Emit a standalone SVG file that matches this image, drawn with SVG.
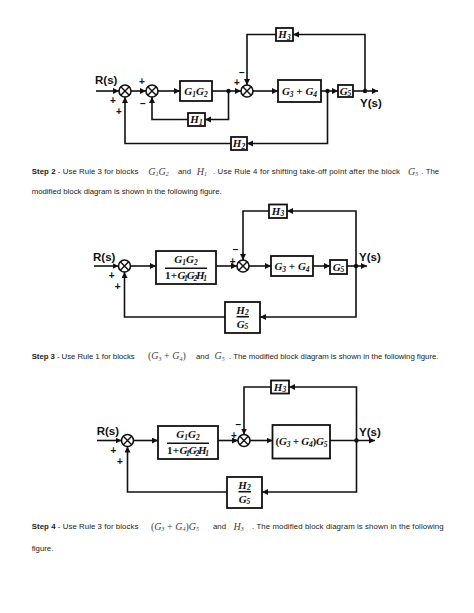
<svg xmlns="http://www.w3.org/2000/svg" width="474" height="613" viewBox="0 0 474 613">
<style>
.ln{stroke:#111;stroke-width:1.6;fill:none}
.ar{marker-end:url(#ah)}
.blk{fill:#fff;stroke:#111;stroke-width:1.8}
.sj{fill:#fff;stroke:#111;stroke-width:1.6}
.x{stroke:#111;stroke-width:1.4}
.dot{fill:#111}
.lbl{font-family:"Liberation Serif",serif;font-style:italic;font-weight:bold;font-size:11px;fill:#111}
.up{font-style:normal}
.sb{font-size:7.5px}
.sg{font-family:"Liberation Sans",Arial,sans-serif;font-weight:bold;font-size:10px;fill:#111;text-anchor:middle}
.io{font-family:"Liberation Sans",Arial,sans-serif;font-weight:bold;font-size:11.5px;fill:#111}
.txt{font-family:"Liberation Sans",Arial,sans-serif;font-size:7.8px;fill:#222}
.b{font-weight:bold}
.m{font-family:"Liberation Serif",serif;font-style:italic;font-size:10px;fill:#444}
.ms{font-size:6px}
.mu{font-style:normal}
.mid{text-anchor:middle}
</style>
<defs>
<marker id="ah" markerUnits="userSpaceOnUse" markerWidth="7" markerHeight="7" refX="6" refY="3" orient="auto">
<path d="M0,0 L6,3 L0,6 z" fill="#111"/>
</marker>
<g id="sum"><circle class="sj" r="6"/><path class="x" d="M-4.2,-4.2 L4.2,4.2 M-4.2,4.2 L4.2,-4.2"/></g>
</defs>
<rect width="474" height="613" fill="#fff"/>

<!-- ===== Diagram 1 ===== -->
<g id="d1-connectors">
<path class="ln ar" d="M96,91 H119"/>
<path class="ln ar" d="M131,91 H146"/>
<path class="ln ar" d="M158,91 H180"/>
<path class="ln ar" d="M212,91 H241"/>
<path class="ln ar" d="M253,91 H278"/>
<path class="ln ar" d="M321,91 H338"/>
<path class="ln ar" d="M353,91 H378"/>
<path class="ln ar" d="M365,91 V34.5 H293"/>
<path class="ln ar" d="M276,34.5 H247 V85"/>
<path class="ln ar" d="M228.5,91 V119.5 H205"/>
<path class="ln ar" d="M188,119.5 H152 V97"/>
<path class="ln ar" d="M327.5,91 V143.5 H247"/>
<path class="ln ar" d="M231,143.5 H125 V97"/>
<circle class="dot" cx="228.5" cy="91" r="2.2"/>
<circle class="dot" cx="327.5" cy="91" r="2.2"/>
<circle class="dot" cx="365" cy="91" r="2.2"/>
</g>
<g id="d1-R"><text class="io" x="95" y="83.5">R(s)</text></g>
<g id="d1-Y"><text class="io" x="360" y="106.5">Y(s)</text></g>
<g id="d1-s1"><use href="#sum" x="125" y="91"/><text class="sg" x="113" y="103.5">+</text><text class="sg" x="119" y="114.5">+</text></g>
<g id="d1-s2"><use href="#sum" x="152" y="91"/><text class="sg" x="142" y="84.5">+</text><text class="sg" x="143" y="106.5">−</text></g>
<g id="d1-s3"><use href="#sum" x="247" y="91"/><text class="sg" x="237" y="85.5">+</text><text class="sg" x="242" y="75.5">−</text></g>
<g id="d1-G1G2"><rect class="blk" x="180" y="81" width="32" height="20"/><text class="lbl mid" x="196" y="94.5">G<tspan class="sb" dy="2">1</tspan><tspan dy="-2">G</tspan><tspan class="sb" dy="2">2</tspan></text></g>
<g id="d1-G3G4"><rect class="blk" x="278" y="80" width="43" height="22"/><text class="lbl mid" x="299.5" y="94.5">G<tspan class="sb" dy="2">3</tspan><tspan class="up" dy="-2"> + </tspan><tspan>G</tspan><tspan class="sb" dy="2">4</tspan></text></g>
<g id="d1-G5"><rect class="blk" x="338" y="85" width="15" height="12"/><text class="lbl mid" x="345.5" y="94.8">G<tspan class="sb" dy="1.5">5</tspan></text></g>
<g id="d1-H3"><rect class="blk" x="276" y="28" width="17" height="13"/><text class="lbl mid" x="284.5" y="38.2">H<tspan class="sb" dy="1.5">3</tspan></text></g>
<g id="d1-H1"><rect class="blk" x="188" y="113" width="17" height="13"/><text class="lbl mid" x="196.5" y="123.2">H<tspan class="sb" dy="1.5">1</tspan></text></g>
<g id="d1-H2"><rect class="blk" x="231" y="137" width="16" height="13"/><text class="lbl mid" x="239" y="147.2">H<tspan class="sb" dy="1.5">2</tspan></text></g>

<!-- Step 2 text -->
<g id="step2">
<text class="txt" x="31.7" y="174" textLength="106.6"><tspan class="b">Step 2</tspan> - Use Rule 3 for blocks</text>
<text class="m" x="148.3" y="174.5">G<tspan class="ms" dy="1.5">1</tspan><tspan dy="-1.5">G</tspan><tspan class="ms" dy="1.5">2</tspan></text>
<text class="txt" x="178" y="174">and</text>
<text class="m" x="196.7" y="174.5">H<tspan class="ms" dy="1.5">1</tspan></text>
<text class="txt" x="213" y="174" textLength="187">. Use Rule 4 for shifting take-off point after the block</text>
<text class="m" x="408" y="174.5">G<tspan class="ms" dy="1.5">5</tspan></text>
<text class="txt" x="421.5" y="174">. The</text>
<text class="txt" x="31.7" y="193.5" textLength="190">modified block diagram is shown in the following figure.</text>
</g>

<!-- ===== Diagram 2 ===== -->
<g id="d2-connectors">
<path class="ln ar" d="M94,266 H118.5"/>
<path class="ln ar" d="M130.5,266 H156"/>
<path class="ln ar" d="M216,266 H237"/>
<path class="ln ar" d="M249,266 H271"/>
<path class="ln ar" d="M313,266 H330"/>
<path class="ln ar" d="M347,266 H367"/>
<path class="ln ar" d="M356,266 V211 H287"/>
<path class="ln ar" d="M269,211 H243 V260"/>
<path class="ln ar" d="M356,266 V317 H260"/>
<path class="ln ar" d="M225,317 H124.5 V272"/>
<circle class="dot" cx="356" cy="266" r="2.2"/>
</g>
<g id="d2-R"><text class="io" x="93" y="260.5">R(s)</text></g>
<g id="d2-Y"><text class="io" x="359" y="261">Y(s)</text></g>
<g id="d2-s1"><use href="#sum" x="124.5" y="266"/><text class="sg" x="111.7" y="278.5">+</text><text class="sg" x="117.7" y="289.5">+</text></g>
<g id="d2-s2"><use href="#sum" x="243" y="266"/><text class="sg" x="232.7" y="264.5">+</text><text class="sg" x="235.7" y="253">−</text></g>
<g id="d2-B1"><rect class="blk" x="156" y="251" width="60" height="33"/>
<text class="lbl mid" x="186" y="262.5">G<tspan class="sb" dy="2">1</tspan><tspan dy="-2">G</tspan><tspan class="sb" dy="2">2</tspan></text>
<path class="ln" d="M165,268.3 H207" stroke-width="1.2"/>
<text class="lbl mid" x="186" y="278.5" textLength="42"><tspan class="up">1 + </tspan>G<tspan class="sb" dy="2">1</tspan><tspan dy="-2">G</tspan><tspan class="sb" dy="2">2</tspan><tspan dy="-2">H</tspan><tspan class="sb" dy="2">1</tspan></text></g>
<g id="d2-G3G4"><rect class="blk" x="271" y="256" width="42" height="20"/><text class="lbl mid" x="292" y="269.8">G<tspan class="sb" dy="2">3</tspan><tspan class="up" dy="-2"> + </tspan><tspan>G</tspan><tspan class="sb" dy="2">4</tspan></text></g>
<g id="d2-G5"><rect class="blk" x="330" y="260" width="17" height="14"/><text class="lbl mid" x="338.5" y="270.6">G<tspan class="sb" dy="1.5">5</tspan></text></g>
<g id="d2-H3"><rect class="blk" x="269" y="204.5" width="18" height="13.5"/><text class="lbl mid" x="278" y="214.8">H<tspan class="sb" dy="1.5">3</tspan></text></g>
<g id="d2-H2G5"><rect class="blk" x="225" y="302" width="35" height="31"/>
<text class="lbl mid" x="242.5" y="313.5">H<tspan class="sb" dy="1.5">2</tspan></text>
<path class="ln" d="M236.5,316.7 H249" stroke-width="1.2"/>
<text class="lbl mid" x="242.5" y="327.8">G<tspan class="sb" dy="1.5">5</tspan></text></g>

<!-- Step 3 text -->
<g id="step3">
<text class="txt" x="31.7" y="358.5" textLength="103"><tspan class="b">Step 3</tspan> - Use Rule 1 for blocks</text>
<text class="m" x="148" y="359"><tspan class="mu">(</tspan>G<tspan class="ms" dy="1.5">3</tspan><tspan class="mu" dy="-1.5"> + </tspan>G<tspan class="ms" dy="1.5">4</tspan><tspan class="mu" dy="-1.5">)</tspan></text>
<text class="txt" x="196" y="358.5">and</text>
<text class="m" x="214.5" y="359">G<tspan class="ms" dy="1.5">5</tspan></text>
<text class="txt" x="229" y="358.5" textLength="209.5">. The modified block diagram is shown in the following figure.</text>
</g>

<!-- ===== Diagram 3 ===== -->
<g id="d3-connectors">
<path class="ln ar" d="M97,440.5 H121.5"/>
<path class="ln ar" d="M133.5,440.5 H158"/>
<path class="ln ar" d="M218,440.5 H238"/>
<path class="ln ar" d="M250,440.5 H272.5"/>
<path class="ln ar" d="M330,440.5 H375"/>
<path class="ln ar" d="M356.5,440.5 V387 H289"/>
<path class="ln ar" d="M271,387 H244 V434.5"/>
<path class="ln ar" d="M356.5,440.5 V492 H262"/>
<path class="ln ar" d="M227,492 H127.5 V446.5"/>
<circle class="dot" cx="356.5" cy="440.5" r="2.2"/>
</g>
<g id="d3-R"><text class="io" x="96.7" y="435">R(s)</text></g>
<g id="d3-Y"><text class="io" x="359" y="436">Y(s)</text></g>
<g id="d3-s1"><use href="#sum" x="127.5" y="440.5"/><text class="sg" x="113.3" y="453.5">+</text><text class="sg" x="120" y="464.5">+</text></g>
<g id="d3-s2"><use href="#sum" x="244" y="440.5"/><text class="sg" x="234" y="438.5">+</text><text class="sg" x="238.3" y="428">−</text></g>
<g id="d3-B1"><rect class="blk" x="158" y="426" width="60" height="33"/>
<text class="lbl mid" x="188" y="437.5">G<tspan class="sb" dy="2">1</tspan><tspan dy="-2">G</tspan><tspan class="sb" dy="2">2</tspan></text>
<path class="ln" d="M167,443.3 H209" stroke-width="1.2"/>
<text class="lbl mid" x="188" y="453.5" textLength="42"><tspan class="up">1 + </tspan>G<tspan class="sb" dy="2">1</tspan><tspan dy="-2">G</tspan><tspan class="sb" dy="2">2</tspan><tspan dy="-2">H</tspan><tspan class="sb" dy="2">1</tspan></text></g>
<g id="d3-G345"><rect class="blk" x="272.5" y="425" width="57.5" height="33.5"/><text class="lbl mid" x="301.5" y="444.8" textLength="52"><tspan class="up">(</tspan>G<tspan class="sb" dy="2">3</tspan><tspan class="up" dy="-2"> + </tspan><tspan>G</tspan><tspan class="sb" dy="2">4</tspan><tspan class="up" dy="-2">)</tspan><tspan>G</tspan><tspan class="sb" dy="2">5</tspan></text></g>
<g id="d3-H3"><rect class="blk" x="271" y="380.5" width="18" height="13"/><text class="lbl mid" x="280" y="390.6">H<tspan class="sb" dy="1.5">3</tspan></text></g>
<g id="d3-H2G5"><rect class="blk" x="227" y="477" width="35" height="31"/>
<text class="lbl mid" x="244.5" y="488.5">H<tspan class="sb" dy="1.5">2</tspan></text>
<path class="ln" d="M238.5,491.7 H251" stroke-width="1.2"/>
<text class="lbl mid" x="244.5" y="502.8">G<tspan class="sb" dy="1.5">5</tspan></text></g>

<!-- Step 4 text -->
<g id="step4">
<text class="txt" x="31.7" y="529" textLength="106.6"><tspan class="b">Step 4</tspan> - Use Rule 3 for blocks</text>
<text class="m" x="151" y="529.5"><tspan class="mu">(</tspan>G<tspan class="ms" dy="1.5">3</tspan><tspan class="mu" dy="-1.5"> + </tspan>G<tspan class="ms" dy="1.5">4</tspan><tspan class="mu" dy="-1.5">)</tspan>G<tspan class="ms" dy="1.5">5</tspan></text>
<text class="txt" x="213" y="529">and</text>
<text class="m" x="233.5" y="529.5">H<tspan class="ms" dy="1.5">3</tspan></text>
<text class="txt" x="252" y="529" textLength="191.5">. The modified block diagram is shown in the following</text>
<text class="txt" x="31.7" y="550.5">figure.</text>
</g>
</svg>
